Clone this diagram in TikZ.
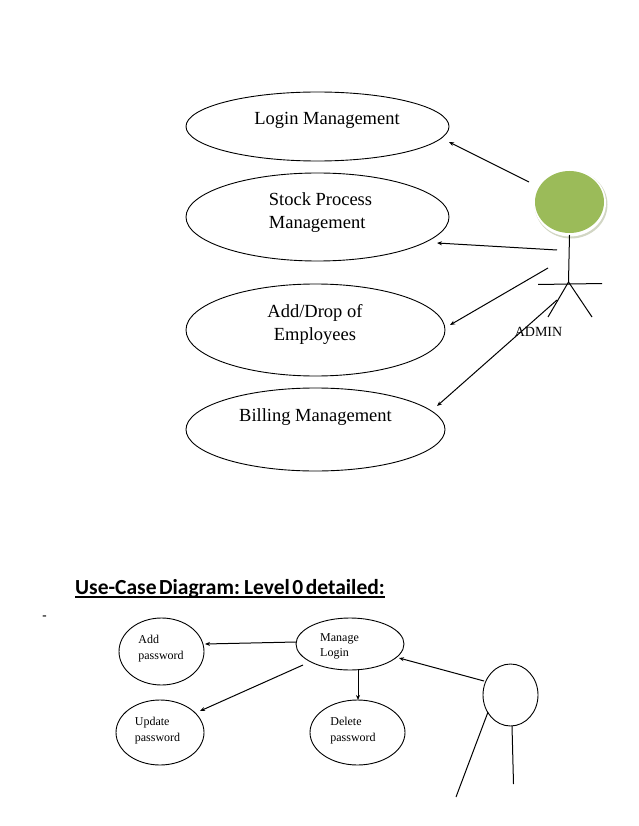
\documentclass[tikz,border=0pt]{standalone}
\usepackage{fontspec}
\setmainfont{Liberation Serif}
\newfontfamily\titlefont{Carlito}
\usetikzlibrary{shapes.geometric,arrows.meta}
\definecolor{headgreen}{HTML}{9BBB59}
\definecolor{headshadow}{HTML}{D2D6C4}
% #1 dx, #2 dy (up), #3 column alignment, #4 text: places text off the ellipse centre
\newcommand\offlabel[4]{\raisebox{#2}[0pt][0pt]{\makebox[0pt]{\hspace*{#1}\hspace*{#1}\begin{tabular}{@{}#3@{}}#4\end{tabular}}}}
\tikzset{
  x=1pt,y=-1pt,
  usecase/.style={draw=black,line width=0.9pt,ellipse,inner sep=0pt,minimum width=#1},
  bigtext/.style={font=\fontsize{18.5}{23}\selectfont},
  smalltext/.style={font=\fontsize{12}{15.5}\selectfont},
  conn/.style={draw=black,line width=1pt,-{Stealth[length=5pt,width=4pt]}},
  limb/.style={draw=black,line width=1pt}
}
\begin{document}
\begin{tikzpicture}
\useasboundingbox (0,0) rectangle (638,826);
% upper use cases
\node[usecase=263pt,minimum height=69pt,bigtext] (login) at (317.5,126.5) {\offlabel{9.5pt}{2.5pt}{c}{Login Management}};
\node[usecase=263pt,minimum height=88pt,bigtext] (stock) at (317.5,217) {\offlabel{3pt}{0pt}{l}{Stock Process\\Management}};
\node[usecase=259pt,minimum height=92pt,bigtext] (adddrop) at (315.5,330) {\offlabel{-0.5pt}{1pt}{c}{Add/Drop of\\Employees}};
\node[usecase=259pt,minimum height=83pt,bigtext] (billing) at (315.5,429.5) {\offlabel{0pt}{8pt}{c}{Billing Management}};
% actor
\fill[headshadow] (571,204.5) ellipse [x radius=36.5,y radius=34];
\fill[white] (570,203) ellipse [x radius=36,y radius=33.5];
\node[ellipse,fill=headgreen,inner sep=0pt,minimum width=69pt,minimum height=62pt] (head) at (569.5,202) {};
\coordinate (neck) at (569.5,235);
\coordinate (hip) at (568.5,282);
\coordinate (armL) at (538,284.5);
\coordinate (armR) at (602,283.5);
\coordinate (legL) at (548,317);
\coordinate (legR) at (592,317);
\draw[limb] (neck) -- (hip);
\draw[limb] (armL) -- (armR);
\draw[limb] (legL) -- (hip) -- (legR);
\node[font=\fontsize{14}{16}\selectfont,inner sep=0pt] (admin) at (538.5,332) {ADMIN};
% upper connectors
\coordinate (a1) at (529,182); \coordinate (t1) at (449,142);
\coordinate (a2) at (557,250); \coordinate (t2) at (437,243);
\coordinate (a3) at (548,268); \coordinate (t3) at (450,325);
\coordinate (a4) at (557,300); \coordinate (t4) at (437,406);
\draw[conn] (a1) -- (t1);
\draw[conn] (a2) -- (t2);
\draw[conn] (a3) -- (t3);
\draw[conn] (a4) -- (t4);
% heading
\node[font=\titlefont\bfseries\fontsize{21.5}{24}\selectfont,inner sep=0pt,anchor=base west] (title) at (75,594.5) {\spaceskip=2.5pt Use-Case Diagram: Level 0 detailed:};
\draw[line width=1.4pt] (75,597) -- (385,597);
\node[font=\bfseries\fontsize{13}{15}\selectfont,inner sep=0pt] (dash) at (44.5,618) {-};
% lower use cases
\node[usecase=85pt,minimum height=67pt,smalltext] (addpw) at (161.5,651.5) {\offlabel{-0.5pt}{0pt}{l}{Add\\password}};
\node[usecase=88pt,minimum height=65pt,smalltext] (updatepw) at (160,732.5) {\offlabel{-2.5pt}{-1pt}{l}{Update\\password}};
\node[usecase=108pt,minimum height=52pt,smalltext] (manage) at (350,644) {\offlabel{-10.5pt}{-5pt}{l}{Manage\\Login}};
\node[usecase=95pt,minimum height=65pt,smalltext] (deletepw) at (357.5,732.5) {\offlabel{-4.5pt}{-1pt}{l}{Delete\\password}};
% lower actor
\node[usecase=55pt,minimum height=62pt] (head2) at (510.5,695) {};
\coordinate (b1) at (296,642); \coordinate (u1) at (205,644);
\coordinate (b2) at (303,665); \coordinate (u2) at (200,711);
\coordinate (b3) at (358,670); \coordinate (u3) at (358,700);
\coordinate (b4) at (484,681); \coordinate (u4) at (399,658);
\draw[conn] (b1) -- (u1);
\draw[conn] (b2) -- (u2);
\draw[conn] (b3) -- (u3);
\draw[conn] (b4) -- (u4);
\coordinate (h2a) at (512,726); \coordinate (h2b) at (513.5,784);
\coordinate (h2c) at (488,712); \coordinate (h2d) at (456,797);
\draw[limb] (h2a) -- (h2b);
\draw[limb] (h2c) -- (h2d);
\end{tikzpicture}
\end{document}
